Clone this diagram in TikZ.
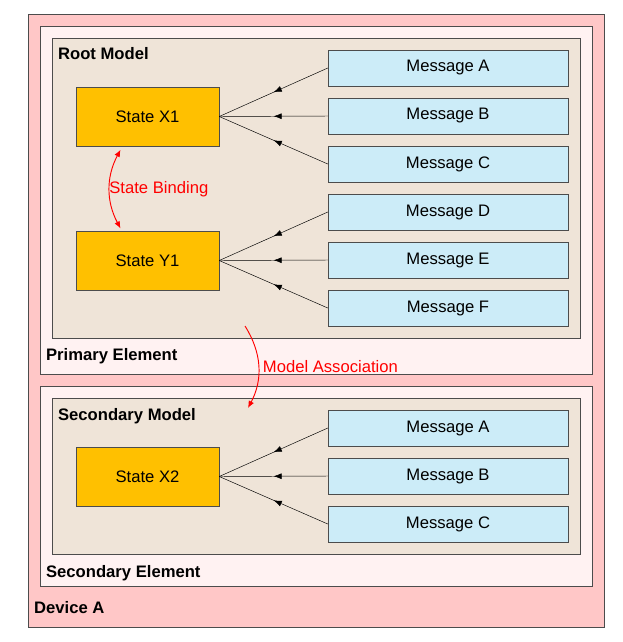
\documentclass[tikz,border=0pt]{standalone}
\usepackage{fontspec}
\setmainfont{Liberation Sans}
\usepackage{tikz}
\usetikzlibrary{positioning, arrows.meta, decorations.markings}
\definecolor{stateorange}{HTML}{FFC000}
\definecolor{msgblue}{HTML}{CCECF8}
\definecolor{modelbeige}{HTML}{EFE4D8}

\begin{document}
\begin{tikzpicture}[ x = 0.03cm, y = -0.03cm
                     , font = \fontsize{14.2}{16}\selectfont
                     , >={Latex[width=0.5em, length=0.6em]}
                     , box/.style = { draw = black!70, anchor = north west, inner sep = 0pt }
                     , state/.style = { draw = black!70, fill = stateorange
                                      , minimum width = 143*0.03cm, minimum height = 59*0.03cm }
                     , msg/.style = { draw = black!70, fill = msgblue
                                    , minimum width = 240*0.03cm, minimum height = 36*0.03cm }
                     , tag/.style = { font = \fontsize{14.2}{16}\selectfont\bfseries, anchor = west }
                     , link/.style = { postaction = {decorate}
                                     , decoration = {markings, mark = at position 0.5 with {\arrow{Latex[width=0.5em, length=0.7em]}}} }
                     , bind/.style = { red, thick, {Latex[width=0.5em, length=0.6em]}-{Latex[width=0.5em, length=0.6em]} }
                     ]

  \useasboundingbox (0,0) rectangle (623,642);

  % frames
  \node (device) [box, fill = red!22, minimum width = 576*0.03cm, minimum height = 613*0.03cm] at (28,14) {};
  \node (primary) [box, fill = red!5, minimum width = 552*0.03cm, minimum height = 348*0.03cm] at (40,26) {};
  \node (root) [box, fill = modelbeige, minimum width = 528*0.03cm, minimum height = 300*0.03cm] at (52,38) {};
  \node (secondary) [box, fill = red!5, minimum width = 552*0.03cm, minimum height = 200*0.03cm] at (40,386) {};
  \node (secmodel) [box, fill = modelbeige, minimum width = 528*0.03cm, minimum height = 156*0.03cm] at (52,398) {};

  \node [tag] at (54,54) {Root Model};
  \node [tag] at (42,356) {Primary Element};
  \node [tag] at (54,416) {Secondary Model};
  \node [tag] at (42,573) {Secondary Element};
  \node [tag] at (30,608) {Device A};

  % states
  \node (stateX1) [state] at (147.5,116.5) {State X1};
  \node (stateY1) [state] at (147.5,260.5) {State Y1};
  \node (stateX2) [state] at (147.5,476.5) {State X2};

  % messages
  \node (msgA) [msg] at (448,68) {Message A};
  \node (msgB) [msg] at (448,116) {Message B};
  \node (msgC) [msg] at (448,164) {Message C};
  \node (msgD) [msg] at (448,212) {Message D};
  \node (msgE) [msg] at (448,260) {Message E};
  \node (msgF) [msg] at (448,308) {Message F};
  \node (msgA2) [msg] at (448,428) {Message A};
  \node (msgB2) [msg] at (448,476) {Message B};
  \node (msgC2) [msg] at (448,524) {Message C};

  \foreach \m in {msgA, msgB, msgC}
    \draw [link] (\m.west) -- (stateX1.east);
  \foreach \m in {msgD, msgE, msgF}
    \draw [link] (\m.west) -- (stateY1.east);
  \foreach \m in {msgA2, msgB2, msgC2}
    \draw [link] (\m.west) -- (stateX2.east);

  % bindings
  \draw [bind] ([xshift=-27*0.03cm, yshift=-3]stateX1.south) to [bend right=28]
    node [right, text = red, xshift = -4] {State Binding} ([xshift=-27*0.03cm, yshift=2]stateY1.north);
  \coordinate (assocStart) at (245,326);
  \coordinate (assocEnd) at (248,408);
  \draw [red, thick, ->] (assocStart) to [bend left=30]
    node [right, text = red, xshift = 0] {Model Association} (assocEnd);

\end{tikzpicture}
\end{document}
